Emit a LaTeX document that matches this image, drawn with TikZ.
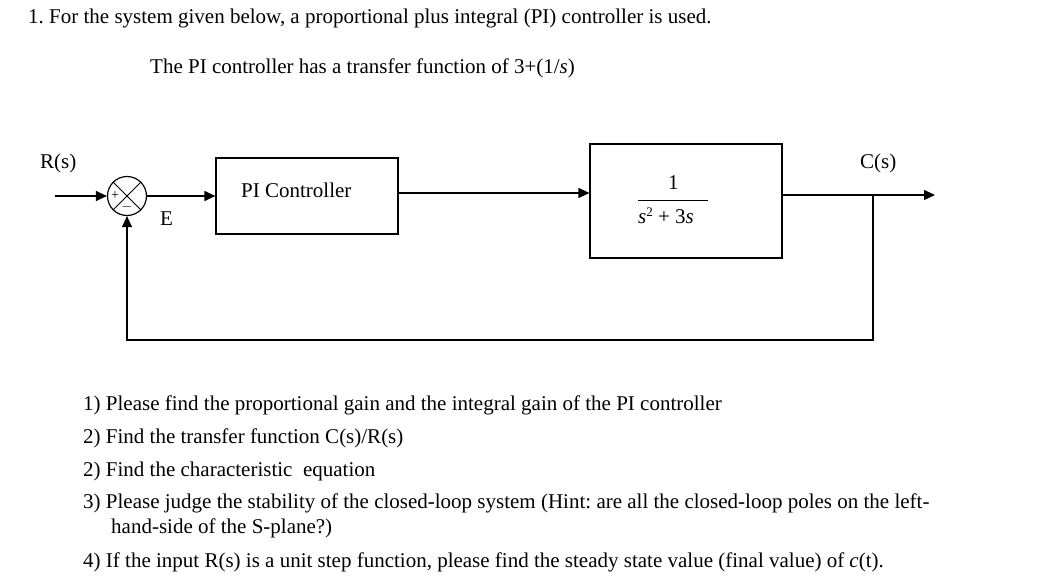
\documentclass[tikz,border=0pt]{standalone}
\usepackage{fontspec}
\setmainfont{Liberation Serif}
\usetikzlibrary{arrows.meta}
\begin{document}
\begin{tikzpicture}[x=1pt,y=-1pt,
  txt/.style={anchor=west,inner sep=0pt,font=\fontsize{21}{24}\selectfont},
  blk/.style={draw,line width=1.2pt},
  ln/.style={line width=1.2pt},
  arr/.style={ln,-{Triangle[length=11pt,width=10pt]}}]
\useasboundingbox (0,0) rectangle (1058,587);
\node[txt] (t1) at (28,18) {1.\ For the system given below, a proportional plus integral (PI) controller is used.};
\node[txt] (t2) at (150,68) {The PI controller has a transfer function of 3+(1/\textit{s})};
\node[txt] (rs) at (40,163) {R(s)};
\node[txt] (cs) at (860,163) {C(s)};
\node[draw,circle,line width=1.2pt,minimum size=39pt,inner sep=0pt] (sum) at (127,196) {};
\draw[line width=1pt] (sum.45)--(sum.225) (sum.135)--(sum.315);
\node[font=\fontsize{14}{14}\selectfont,inner sep=0pt] at (115,196) {+};
\node[font=\fontsize{14}{14}\selectfont,inner sep=0pt] at (127,207) {$-$};
\node[txt] (e) at (160,219) {E};
\node[blk,minimum width=182pt,minimum height=76pt] (pi) at (307,196) {};
\node[txt] at (241,190) {PI Controller};
\node[blk,minimum width=192pt,minimum height=114pt] (pl) at (686,201) {};
\node[txt] (num) at (668,183) {1};
\draw[line width=0.8pt] (638,200)--(708,200);
\node[txt] (den) at (638,216) {\textit{s}\raisebox{7pt}{\fontsize{13}{13}\selectfont 2} + 3\textit{s}};
\coordinate (in) at (55,196);
\coordinate (out) at (935,195);
\coordinate (tap) at (873,195);
\coordinate (bl) at (127,340);
\coordinate (br) at (873,340);
\draw[arr] (in)--(sum.west);
\draw[arr] (sum.east)--(pi.west |- sum.east);
\draw[arr] (pi.east |- 0,193)--(pl.west |- 0,193);
\draw[arr] (pl.east |- tap)--(out);
\draw[arr] (tap)--(br)--(bl)--(sum.south);
\node[txt] at (83,405) {1) Please find the proportional gain and the integral gain of the PI controller};
\node[txt] at (83,438) {2) Find the transfer function C(s)/R(s)};
\node[txt] at (83,471) {2) Find the characteristic\ \ equation};
\node[txt] at (83,503) {3) Please judge the stability\ of the closed-loop system (Hint:\ are all the closed-loop poles on the left-};
\node[txt] at (111,528) {hand-side of the S-plane?)};
\node[txt] at (83,562) {4) If the input R(s) is a unit step function, please find the steady state value (final value) of \textit{c}(t).};
\end{tikzpicture}
\end{document}
